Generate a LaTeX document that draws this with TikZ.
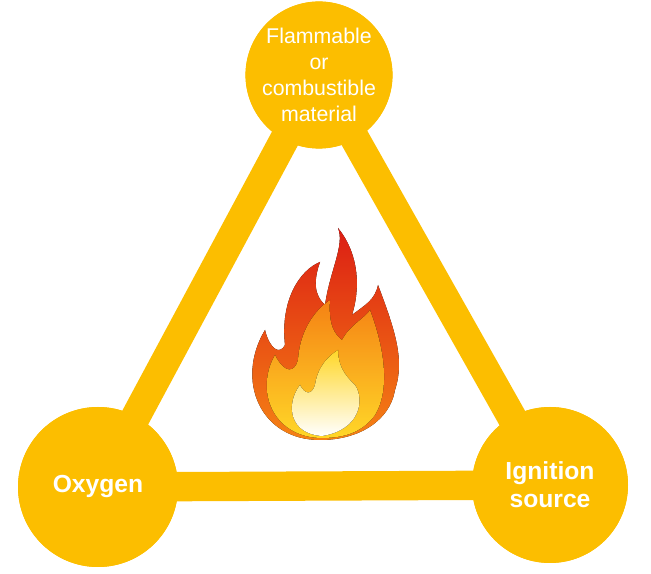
\documentclass[tikz,border=0pt]{standalone}
\usepackage{fontspec}
\setmainfont{Liberation Sans}
\usepackage{tikz}
\definecolor{firegold}{RGB}{252,190,0}
\definecolor{flamered}{RGB}{220,30,20}
\definecolor{flameorange}{RGB}{245,130,20}
\definecolor{flameyellow}{RGB}{255,215,40}
\tikzstyle{corner} = [circle, fill=firegold, text=white, align=center, inner sep=0pt]
\tikzstyle{bar} = [line width=22pt, draw=firegold]
\begin{document}
\begin{tikzpicture}[x=0.75pt, y=-0.75pt]
      \useasboundingbox (0, 0) rectangle (651, 574);
      \node (fuel) at (319, 75) [corner, minimum size=110pt] {};
      \node (oxygen) at (98, 487) [corner, minimum size=120pt] {};
      \node (ignition) at (550, 485) [corner, minimum size=117pt] {};
      \draw[bar] (fuel.center) -- (oxygen.center) -- (ignition.center) -- cycle;
      \node at (fuel) [corner, minimum size=110pt, font=\fontsize{16}{19.5}\selectfont] {Flammable\\or\\combustible\\material};
      \node at (oxygen) [corner, minimum size=120pt, font=\fontsize{18.5}{21}\selectfont\bfseries] {Oxygen};
      \node at (ignition) [corner, minimum size=117pt, font=\fontsize{18.5}{21}\selectfont\bfseries] {Ignition\\source};
      % flame
      \fill[top color=flamered, bottom color=flameorange]
        (320, 440) .. controls (260, 440) and (235, 380) .. (265, 330)
        .. controls (270, 350) and (280, 355) .. (285, 345)
        .. controls (280, 300) and (300, 270) .. (320, 262)
        .. controls (310, 290) and (320, 300) .. (325, 305)
        .. controls (330, 270) and (345, 245) .. (338, 228)
        .. controls (360, 255) and (360, 290) .. (352, 315)
        .. controls (365, 305) and (375, 300) .. (378, 285)
        .. controls (395, 330) and (405, 360) .. (395, 390)
        .. controls (390, 420) and (360, 440) .. cycle;
      \fill[top color=flameorange, bottom color=flameyellow]
        (320, 438) .. controls (272, 436) and (255, 390) .. (275, 355)
        .. controls (285, 375) and (295, 372) .. (298, 360)
        .. controls (300, 330) and (315, 310) .. (330, 300)
        .. controls (328, 325) and (335, 335) .. (342, 340)
        .. controls (350, 325) and (365, 318) .. (370, 310)
        .. controls (385, 350) and (390, 390) .. (375, 415)
        .. controls (360, 435) and (340, 438) .. cycle;
      \fill[top color=flameyellow, bottom color=white]
        (322, 436) .. controls (290, 434) and (285, 405) .. (300, 385)
        .. controls (305, 395) and (312, 395) .. (315, 385)
        .. controls (318, 365) and (330, 355) .. (338, 350)
        .. controls (338, 370) and (350, 380) .. (355, 385)
        .. controls (365, 400) and (360, 430) .. cycle;
    \end{tikzpicture}
\end{document}
